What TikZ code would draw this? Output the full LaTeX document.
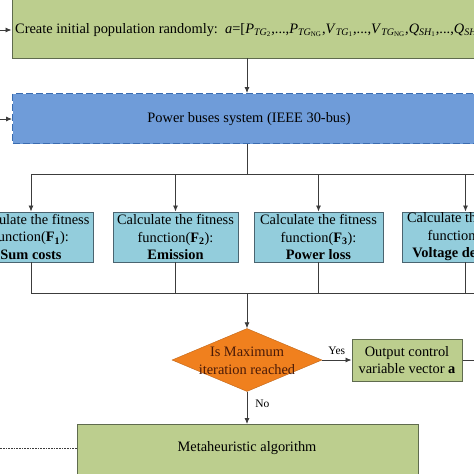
\documentclass[tikz,border=0pt]{standalone}
\usepackage{amsmath}
\usepackage{fontspec}
\setmainfont{Liberation Serif}
\usetikzlibrary{shapes.geometric,arrows.meta}
\definecolor{gfill}{HTML}{BCCE8E}
\definecolor{gline}{HTML}{5F6B4E}
\definecolor{bfill}{HTML}{6F9CD9}
\definecolor{bline}{HTML}{3A6CB0}
\definecolor{cfill}{HTML}{93CDDC}
\definecolor{cline}{HTML}{4A6470}
\definecolor{ofill}{HTML}{F0801E}
\definecolor{otext}{HTML}{4A1A08}
\definecolor{conn}{HTML}{3C3C3C}
\newcommand{\vsub}[3]{\textit{#1}$_{\textit{#2}_{\textrm{#3}}}$}
\tikzset{
  txt/.style={font=\fontsize{14.4}{17.5}\selectfont, inner sep=0pt},
  greenbox/.style={draw=gline, line width=1pt, fill=gfill, rectangle, inner sep=0pt},
  bluebox/.style={draw=bline, line width=1.3pt, dash pattern=on 7pt off 3pt, fill=bfill, rectangle, inner sep=0pt},
  fitbox/.style={draw=cline, line width=0.9pt, fill=cfill, rectangle, inner sep=0pt, minimum height=50, align=center, txt},
  decision/.style={diamond, fill=ofill, draw=ofill!80!black, line width=0.4pt, inner sep=0pt, minimum width=150, minimum height=63, aspect=2.38},
  conline/.style={draw=conn, line width=0.8pt},
  arr/.style={conline, -{Latex[length=6pt,width=5pt]}},
  lbl/.style={font=\fontsize{11.5}{13}\selectfont, inner sep=0pt}
}
\begin{document}
\begin{tikzpicture}[x=1pt,y=-1pt]
\useasboundingbox (0,0) rectangle (474,474);
\clip (0,0) rectangle (474,474);
\fill[white] (0,0) rectangle (474,474);

% top box
\node[greenbox, minimum width=500, minimum height=72] (init) at (262,22) {};
\node[txt, anchor=west] (initT) at (15,30) {Create initial population randomly:~~\textit{a}=[\vsub{P}{TG}{2},...,\vsub{P}{TG}{NG},\vsub{V}{TG}{1},...,\vsub{V}{TG}{NG},\vsub{Q}{SH}{1},...,\vsub{Q}{SH}{NS}]};
\coordinate (inA) at (0,30);
\draw[arr] (inA) -- (init.west |- inA);

% power buses
\node[bluebox, minimum width=500, minimum height=50, anchor=north west] (bus) at (12,93) {};
\node[txt] (busT) at (249,119) {Power buses system (IEEE 30-bus)};
\coordinate (inB) at (0,119);
\draw[arr] (inB) -- (bus.west |- inB);
\draw[arr] (247,58) -- (247,93);

% fitness boxes
\node[fitbox, minimum width=124] (f1) at (31,237) {Calculate the fitness\\function(\textbf{F\textsubscript{1}}):\\\textbf{Sum costs}};
\node[fitbox, minimum width=125] (f2) at (175.5,237) {Calculate the fitness\\function(\textbf{F\textsubscript{2}}):\\\textbf{Emission}};
\node[fitbox, minimum width=129] (f3) at (318.5,237) {Calculate the fitness\\function(\textbf{F\textsubscript{3}}):\\\textbf{Power loss}};
\node[fitbox, minimum width=127] (f4) at (465.5,237) {Calculate the fitness\\function(\textbf{F\textsubscript{4}}):\\\textbf{Voltage deviation}};

\coordinate (split) at (247,174);
\coordinate (joinL) at (31,174);
\coordinate (joinR) at (490,174);
\draw[conline] (bus.south -| split) -- (split);
\draw[conline] (joinL) -- (joinR);
\foreach \n in {f1,f2,f3,f4} {\draw[arr] (\n.north |- split) -- (\n.north);}

\coordinate (merge) at (247,293);
\coordinate (mergeL) at (31,293);
\coordinate (mergeR) at (490,293);
\foreach \n in {f1,f2,f3,f4} {\draw[conline] (\n.south) -- (\n.south |- merge);}
\draw[conline] (mergeL) -- (mergeR);

% decision
\node[decision] (dec) at (247,360) {};
\node[txt, text=otext, align=center] (decT) at (247,361) {Is Maximum\\iteration reached};
\draw[arr] (merge) -- (dec.north);

% output
\node[greenbox, minimum width=110, minimum height=42, align=center, txt] (out) at (407,360) {Output control\\variable vector \textbf{a}};
\draw[arr] (dec.east) -- node[lbl, above=5pt] (yes) {Yes} (out.west);
\coordinate (outR) at (480,360);
\draw[conline] (out.east) -- (outR);

% metaheuristic
\node[greenbox, minimum width=341, minimum height=70, anchor=north west] (meta) at (77,424) {};
\node[txt] (metaT) at (247,448) {Metaheuristic algorithm};
\draw[arr] (dec.south) -- node[lbl, right=8pt, pos=0.38] (no) {No} (meta.north -| dec.south);
\coordinate (metaL) at (0,448);
\draw[conn, line width=0.6pt, densely dotted] (meta.west |- metaL) -- (metaL);
\end{tikzpicture}
\end{document}
